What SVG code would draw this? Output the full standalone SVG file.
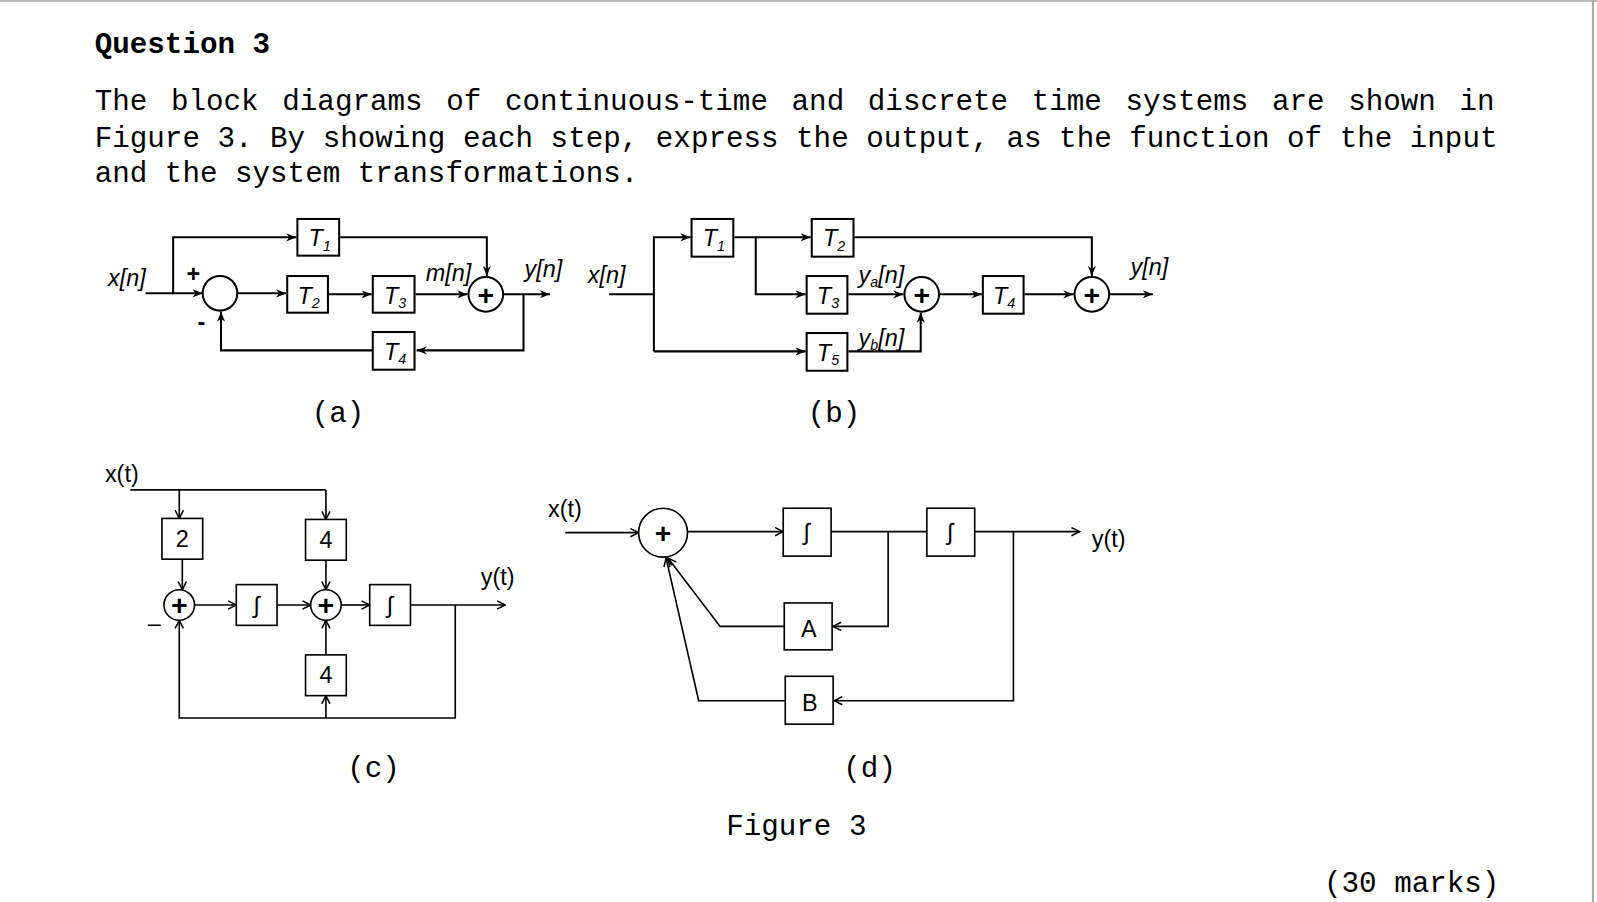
<svg xmlns="http://www.w3.org/2000/svg" width="1597" height="902" viewBox="0 0 1597 902">
<defs>
<marker id="f" viewBox="0 0 10 10" refX="10" refY="5" markerWidth="10" markerHeight="10" markerUnits="userSpaceOnUse" orient="auto"><path d="M0,1 L10,5 L0,9 L3,5 Z" fill="#000"/></marker>
<marker id="o" viewBox="0 0 10 10" refX="9" refY="5" markerWidth="10" markerHeight="10" markerUnits="userSpaceOnUse" orient="auto"><path d="M1,1 L9,5 L1,9" fill="none" stroke="#000" stroke-width="1.5"/></marker>
</defs>
<style>
.t{font-family:"Liberation Mono",monospace;font-size:28.7px;fill:#000}
.b{fill:#fff;stroke:#000;stroke-width:2}
.c{fill:none;stroke:#000;stroke-width:2}
.a{fill:none;stroke:#000;stroke-width:2;marker-end:url(#f)}
.b2{fill:#fff;stroke:#000;stroke-width:1.6}
.c2{fill:none;stroke:#000;stroke-width:1.6}
.a2{fill:none;stroke:#000;stroke-width:1.6;marker-end:url(#o)}
.i{font-family:"Liberation Sans",Arial,sans-serif;font-style:italic;font-size:23px}
.s{font-family:"Liberation Sans",Arial,sans-serif;font-size:23px}
.p{font-family:"Liberation Sans",Arial,sans-serif;font-weight:bold;font-size:28px;text-anchor:middle}
</style>
<rect width="1597" height="902" fill="#fff"/>
<g transform="scale(1.0185)">
<line x1="0" y1="1" x2="1568" y2="1" stroke="#bbb" stroke-width="2"/>
<line x1="1564" y1="0" x2="1564" y2="902" stroke="#aaa" stroke-width="2"/>
<text class="t" x="93" y="52" font-weight="bold">Question 3</text>
<text class="t" x="93" y="108" word-spacing="6">The block diagrams of continuous-time and discrete time systems are shown in</text>
<text class="t" x="93" y="144">Figure 3. By showing each step, express the output, as the function of the input</text>
<text class="t" x="93" y="179">and the system transformations.</text>
<text class="t" x="306" y="414">(a)</text>
<text class="t" x="793" y="414">(b)</text>
<text class="t" x="341" y="763">(c)</text>
<text class="t" x="828" y="763">(d)</text>
<text class="t" x="713" y="820">Figure 3</text>
<text class="t" x="1300" y="876">(30 marks)</text>

<g id="connectors">
<path class="a" d="M143,288 H199"/>
<path class="a" d="M170,288 V233 H291"/>
<path class="a" d="M334,233 H478 V271"/>
<path class="a" d="M233,288 H281"/>
<path class="a" d="M323,289 H365"/>
<path class="a" d="M408,289 H459"/>
<path class="a" d="M494,289 H540"/>
<path class="a" d="M514,289 V344 H409"/>
<path class="a" d="M366,344 H217 V306"/>
<path class="c" d="M598,289 H642"/>
<path class="a" d="M642,345 V233 H678"/>
<path class="a" d="M642,345 H791"/>
<path class="a" d="M721,233 H796"/>
<path class="a" d="M742,233 V289 H791"/>
<path class="a" d="M839,233 H1072 V271"/>
<path class="a" d="M833,289 H887"/>
<path class="a" d="M833,345 H904 V307"/>
<path class="a" d="M922,289 H964"/>
<path class="a" d="M1006,289 H1054"/>
<path class="a" d="M1089,289 H1132"/>
<path class="c2" d="M128,481 H320"/>
<path class="a2" d="M176,481 V509"/>
<path class="a2" d="M320,481 V510"/>
<path class="a2" d="M179,549 V579"/>
<path class="a2" d="M320,550 V579"/>
<path class="a2" d="M191,594 H232"/>
<path class="a2" d="M272,594 H305"/>
<path class="a2" d="M335,594 H363"/>
<path class="a2" d="M403,594 H496"/>
<path class="a2" d="M447,594 V705 H176 V609"/>
<path class="a2" d="M320,705 V683"/>
<path class="a2" d="M320,643 V609"/>
<path class="a2" d="M555,523 H627"/>
<path class="a2" d="M675,522 H769"/>
<path class="c2" d="M816,522 H910"/>
<path class="a2" d="M957,522 H1060"/>
<path class="a2" d="M872,522 V615 H818"/>
<path class="a2" d="M770,615 H707 L656,548"/>
<path class="a2" d="M995,522 V688 H819"/>
<path class="a2" d="M771,688 H686 L654,548"/>
</g>

<g id="nodeA">
<rect class="b" x="292" y="215" width="41" height="36"/><text class="i" x="303" y="242">T<tspan font-size="14" dy="4">1</tspan></text>
<circle class="b" cx="216" cy="288" r="17"/>
<text class="s" x="183" y="277" font-weight="bold" font-size="18">+</text>
<text class="s" x="194" y="324" font-weight="bold" font-size="28">-</text>
<rect class="b" x="282" y="271" width="40" height="36"/><text class="i" x="292" y="298">T<tspan font-size="14" dy="4">2</tspan></text>
<rect class="b" x="366" y="271" width="41" height="36"/><text class="i" x="377" y="298">T<tspan font-size="14" dy="4">3</tspan></text>
<circle class="b" cx="477" cy="289" r="17"/><text class="p" x="477" y="299">+</text>
<rect class="b" x="366" y="326" width="41" height="37"/><text class="i" x="377" y="353">T<tspan font-size="14" dy="4">4</tspan></text>
<text class="i" x="106" y="281">x[n]</text>
<text class="i" x="418" y="276">m[n]</text>
<text class="i" x="515" y="272">y[n]</text>
</g>

<g id="nodeB">
<rect class="b" x="679" y="215" width="41" height="37"/><text class="i" x="690" y="242">T<tspan font-size="14" dy="4">1</tspan></text>
<rect class="b" x="797" y="215" width="41" height="37"/><text class="i" x="808" y="242">T<tspan font-size="14" dy="4">2</tspan></text>
<rect class="b" x="792" y="271" width="40" height="37"/><text class="i" x="802" y="298">T<tspan font-size="14" dy="4">3</tspan></text>
<rect class="b" x="792" y="327" width="40" height="37"/><text class="i" x="802" y="354">T<tspan font-size="14" dy="4">5</tspan></text>
<circle class="b" cx="905" cy="289" r="17"/><text class="p" x="905" y="299">+</text>
<rect class="b" x="965" y="271" width="40" height="37"/><text class="i" x="975" y="298">T<tspan font-size="14" dy="4">4</tspan></text>
<circle class="b" cx="1072" cy="289" r="17"/><text class="p" x="1072" y="299">+</text>
<text class="i" x="577" y="278">x[n]</text>
<text class="i" x="843" y="278">y<tspan font-size="14" dy="4">a</tspan><tspan dy="-4">[n]</tspan></text>
<text class="i" x="843" y="340">y<tspan font-size="14" dy="4">b</tspan><tspan dy="-4">[n]</tspan></text>
<text class="i" x="1110" y="270">y[n]</text>
</g>

<g id="nodeC">
<rect class="b2" x="159" y="509" width="40" height="40"/><text class="s" x="179" y="537" text-anchor="middle">2</text>
<rect class="b2" x="300" y="510" width="40" height="40"/><text class="s" x="320" y="538" text-anchor="middle">4</text>
<circle class="b2" cx="176" cy="594" r="15"/><text class="p" x="176" y="604" font-size="26">+</text>
<rect class="b2" x="232" y="574" width="40" height="40"/><text class="s" x="252" y="602" text-anchor="middle">∫</text>
<circle class="b2" cx="320" cy="594" r="15"/><text class="p" x="320" y="604" font-size="26">+</text>
<rect class="b2" x="363" y="574" width="40" height="40"/><text class="s" x="383" y="602" text-anchor="middle">∫</text>
<rect class="b2" x="300" y="643" width="40" height="40"/><text class="s" x="320" y="671" text-anchor="middle">4</text>
<text class="s" x="103" y="473">x(t)</text>
<text class="s" x="472" y="574">y(t)</text>
<text class="s" x="145" y="620">–</text>
</g>

<g id="nodeD">
<circle class="b2" cx="651" cy="523" r="24"/><text class="p" x="651" y="533">+</text>
<rect class="b2" x="769" y="499" width="47" height="47"/><text class="s" x="792" y="530" text-anchor="middle">∫</text>
<rect class="b2" x="910" y="499" width="47" height="47"/><text class="s" x="933" y="530" text-anchor="middle">∫</text>
<rect class="b2" x="770" y="592" width="47" height="46"/><text class="s" x="794" y="625" text-anchor="middle" font-size="25">A</text>
<rect class="b2" x="771" y="664" width="47" height="47"/><text class="s" x="795" y="698" text-anchor="middle" font-size="25">B</text>
<text class="s" x="538" y="508" font-size="25">x(t)</text>
<text class="s" x="1072" y="537" font-size="25">y(t)</text>
</g>
</g>
</svg>
